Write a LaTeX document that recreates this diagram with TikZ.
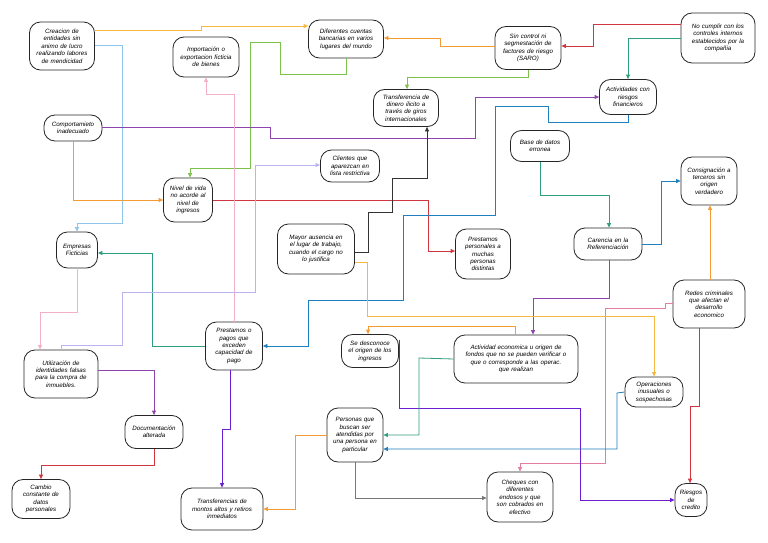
\documentclass[tikz,border=0pt]{standalone}
\usepackage{fontspec}
\setmainfont{Liberation Sans}
\usetikzlibrary{arrows.meta}
\definecolor{cOr}{HTML}{F39C34}
\definecolor{cYe}{HTML}{F5B942}
\definecolor{cGr}{HTML}{7DC04B}
\definecolor{cRd}{HTML}{D0363F}
\definecolor{cTe}{HTML}{2E9E7E}
\definecolor{cPu}{HTML}{8E44AD}
\definecolor{cBl}{HTML}{1F7FBF}
\definecolor{cPk}{HTML}{E57FA0}
\definecolor{cLp}{HTML}{F4B0C6}
\definecolor{cLv}{HTML}{B9B4F0}
\definecolor{cVi}{HTML}{6A1FD1}
\definecolor{cGy}{HTML}{777777}
\definecolor{cLb}{HTML}{8EC5EA}
\begin{document}
\begin{tikzpicture}[x=1pt,y=-1pt,
 box/.style={draw=black!85,line width=0.8pt,rounded corners=11pt,align=center,inner sep=1pt,
   font=\fontsize{6.2}{7.4}\selectfont\itshape},
 arr/.style={-{Triangle[length=4.5pt,width=4pt]},line width=0.8pt}]
\useasboundingbox[fill=white] (0,0) rectangle (768,543);
\newcommand\bx[6]{\node[box,text width=#4pt,minimum width=#4pt,minimum height=#5pt] (#1) at (#2,#3) {#6};}
\bx{A}{62}{46}{63}{48}{Creacion de\\entidades sin\\animo de lucro\\realizando labores\\de mendicidad}
\bx{B}{206}{57}{64}{40}{Importación o\\exportacion ficticia\\de bienes}
\bx{C}{346}{39}{73}{38}{Diferentes cuentas\\bancarias en varios\\lugares del mundo}
\bx{D}{528}{48}{64}{43}{Sin control  ni\\segmestación de\\factores de riesgo\\(SARO)}
\bx{E}{718}{38}{72}{50}{No cumplir con los\\controles internos\\establecidos por la\\compañia}
\bx{F}{406}{108}{63}{37}{Transferencia de\\dinero ilicito a\\través de giros\\internacionales}
\bx{G}{628}{97}{55}{35}{Actividades con\\riesgos\\financieros}
\bx{H}{73}{128}{56}{26}{Comportamieto\\inadecuado}
\bx{I}{350}{166}{57}{32}{Clientes que\\aparezcan en\\lista restrictiva}
\bx{J}{188}{200}{47}{44}{Nivel de vida\\no acorde al\\nivel de\\ingresos}
\bx{K}{540}{146}{57}{31}{Base de datos\\erronea}
\bx{L}{709}{181}{54}{48}{Consignación a\\terceros sin\\origen\\verdadero}
\bx{M}{316}{249}{75}{50}{Mayor ausencia en\\el lugar de trabajo,\\cuando el cargo no\\lo justifica}
\bx{N}{483}{254}{53}{50}{Prestamos\\personales a\\muchas\\personas\\distintas}
\bx{O}{608}{244}{66}{32}{Carencia en la\\Referenciación}
\bx{P}{77}{250}{39}{36}{Empresas\\Ficticias}
\bx{Q}{709}{304}{70}{48}{Redes criminales\\que afectan el\\desarrollo\\economico}
\bx{R}{234}{346}{55}{48}{Prestamos o\\pagos que\\exceden\\capacidad de\\pago}
\bx{S}{370}{351}{55}{33}{Se desconoce\\el origen de los\\ingresos}
\bx{T}{516}{359}{122}{48}{Actividad economica u origen de\\fondos que no se pueden verificar o\\que o corresponde a las operac.\\que realizan}
\bx{U}{61}{374}{72}{48}{Utilización de\\identidades falsas\\para la compra de\\inmuebles.}
\bx{V}{654}{392}{56}{30}{Operaciones\\inusuales o\\sospechosas}
\bx{W}{154}{432}{56}{33}{Documentación\\alterada}
\bx{X}{355}{435}{54}{54}{Personas que\\buscan ser\\atendidas por\\una persona en\\particular}
\bx{Y}{41}{499}{56}{39}{Cambio\\constante de\\datos\\personales}
\bx{Z}{222}{509}{80}{42}{Transferencias de\\montos altos y retiros\\inmediatos}
\bx{AA}{520}{497}{64}{50}{Cheques con\\diferentes\\endosos y que\\son cobrados en\\efectivo}
\bx{AB}{691}{500}{30}{33}{Riesgos\\de\\credito}
% connectors
\draw[arr,cYe] (A.east |- 0,30) -- (201,30) -- (201,26) -- (C.west |- 0,26);
\draw[arr,cLb] (A.east |- 0,45) -- (122,45) -- (122,223) -- (77,223) -- (P.north);
\draw[arr,cOr] (D.west |- 0,46) -- (440,46) -- (440,38) -- (C.east |- 0,38);
\draw[arr,cRd] (E.west |- 0,24) -- (593,24) -- (593,46) -- (D.east |- 0,46);
\draw[arr,cTe] (E.west |- 0,38) -- (628,38) -- (G.north);
\draw[arr,cGr] (D.south) -- (528,77) -- (407,77) -- (F.north -| 407,0);
\draw[arr,cGr] (C.south) -- (346,74) -- (280,74) -- (280,42) -- (250,42) -- (250,168) -- (190,168) -- (J.north -| 190,0);
\draw[arr,cPu] (H.east |- 0,127) -- (270,127) -- (270,138) -- (475,138) -- (475,97) -- (G.west);
\draw[arr,cOr] (H.south) -- (73,200) -- (J.west);
\draw[arr,cRd] (J.east) -- (428,200) -- (428,251) -- (N.west |- 0,251);
\draw[arr,black!80] (M.east |- 0,252) -- (368,252) -- (368,212) -- (392,212) -- (392,178) -- (427,178) -- (F.south -| 427,0);
\draw[arr,cBl] (G.south) -- (628,122) -- (548,122) -- (548,106) -- (495,106) -- (495,215) -- (403,215) -- (403,300) -- (308,300) -- (308,346) -- (R.east);
\draw[arr,cTe] (K.south) -- (540,195) -- (609,195) -- (O.north -| 609,0);
\draw[arr,cBl] (O.east) -- (661,244) -- (661,181) -- (L.west);
\draw[arr,cOr] (Q.north -| 710,0) -- (L.south -| 710,0);
\draw[arr,cPu] (O.south -| 609,0) -- (609,298) -- (533,298) -- (T.north -| 533,0);
\draw[arr,cPk] (Q.west |- 0,303) -- (665,303) -- (665,308) -- (605,308) -- (605,463) -- (520,463) -- (AA.north);
\draw[arr,cRd] (Q.south -| 699,0) -- (699,406) -- (690,406) -- (AB.north -| 690,0);
\draw[arr,cYe] (M.east |- 0,262) -- (367,262) -- (367,316) -- (654,316) -- (V.north);
\draw[arr,cOr] (T.north -| 515,0) -- (515,326) -- (368,326) -- (S.north -| 368,0);
\draw[arr,cVi] (S.east |- 0,340) -- (399,340) -- (399,408) -- (580,408) -- (580,500) -- (AB.west);
\draw[arr,cTe] (T.west) -- (419,358) -- (419,435) -- (X.east |- 0,435);
\draw[arr,cBl] (V.west) -- (617,393) -- (617,449) -- (X.east |- 0,449);
\draw[arr,cGy] (X.south) -- (355,498) -- (AA.west |- 0,498);
\draw[arr,cOr] (X.west) -- (295,435) -- (295,509) -- (Z.east);
\draw[arr,cTe] (R.west) -- (152,346) -- (152,253) -- (P.east |- 0,253);
\draw[arr,cLp] (R.north) -- (234,94) -- (206,94) -- (B.south);
\draw[arr,cLv] (U.north) -- (61,345) -- (122,345) -- (122,292) -- (255,292) -- (255,165) -- (I.west |- 0,165);
\draw[arr,cLp] (P.south) -- (77,312) -- (40,312) -- (U.north -| 40,0);
\draw[arr,cPu] (U.east |- 0,370) -- (154,370) -- (W.north);
\draw[arr,cRd] (W.south) -- (154,465) -- (41,465) -- (Y.north);
\draw[arr,cVi] (R.south -| 230,0) -- (230,429) -- (222,429) -- (Z.north);
\end{tikzpicture}
\end{document}
